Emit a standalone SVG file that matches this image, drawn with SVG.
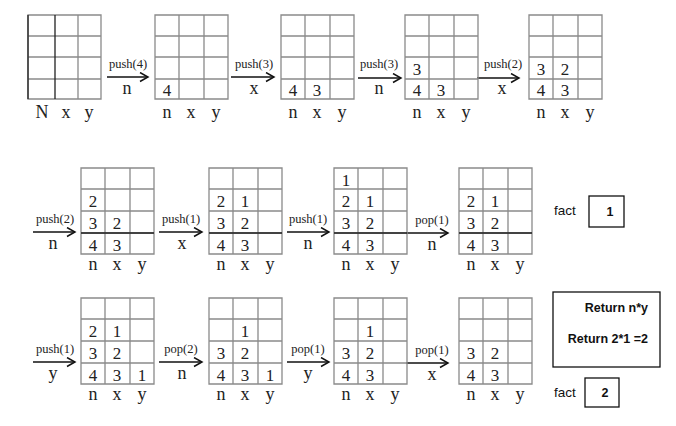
<svg xmlns="http://www.w3.org/2000/svg" width="676" height="426" viewBox="0 0 676 426">
<defs>
<style>
.g{fill:none;stroke:#8a8a8a;stroke-width:1.3}
.dk{stroke:#222;stroke-width:1.3;fill:none}
.d{font-family:"Liberation Serif","Times New Roman",serif;font-size:17px;fill:#222;text-anchor:middle}
.l{font-family:"Liberation Serif","Times New Roman",serif;font-size:18px;fill:#222;text-anchor:middle}
.op{font-family:"Liberation Serif","Times New Roman",serif;font-size:12.5px;fill:#222;text-anchor:middle}
.s{font-family:"Liberation Sans",Arial,sans-serif;font-size:13.5px;fill:#111}
.b{font-family:"Liberation Sans",Arial,sans-serif;font-size:12.5px;font-weight:bold;fill:#111}
.ar{stroke:#111;stroke-width:1.5;fill:none}
.box{fill:#fff;stroke:#111;stroke-width:1.3}
</style>
<marker id="ah" markerUnits="userSpaceOnUse" markerWidth="12" markerHeight="12" refX="9" refY="5" orient="auto">
<path d="M1,0.5 L9,5 L1,9.5" fill="none" stroke="#111" stroke-width="1.5"/>
</marker>
<path id="gA" class="g" d="M0,0H73V84H0Z M24,0V84 M49,0V84 M0,21H73 M0,42H73 M0,64H73"/>
<path id="gB" class="g" d="M0,0H73V86H0Z M24,0V86 M49,0V86 M0,21H73 M0,43H73 M0,65H73"/>
</defs>

<g id="connectors">
<line class="ar" x1="107" y1="77" x2="148" y2="77" marker-end="url(#ah)"/>
<line class="ar" x1="231" y1="77" x2="274" y2="77" marker-end="url(#ah)"/>
<line class="ar" x1="358" y1="78" x2="401" y2="78" marker-end="url(#ah)"/>
<line class="ar" x1="477" y1="78" x2="519" y2="78" marker-end="url(#ah)"/>
<line class="ar" x1="33" y1="232" x2="75" y2="232" marker-end="url(#ah)"/>
<line class="ar" x1="159" y1="232" x2="202" y2="232" marker-end="url(#ah)"/>
<line class="ar" x1="287" y1="232" x2="329" y2="232" marker-end="url(#ah)"/>
<line class="ar" x1="406" y1="233" x2="448" y2="233" marker-end="url(#ah)"/>
<line class="ar" x1="33" y1="362" x2="75" y2="362" marker-end="url(#ah)"/>
<line class="ar" x1="159" y1="362" x2="202" y2="362" marker-end="url(#ah)"/>
<line class="ar" x1="287" y1="362" x2="329" y2="362" marker-end="url(#ah)"/>
<line class="ar" x1="406" y1="363" x2="448" y2="363" marker-end="url(#ah)"/>
<text class="op" x="128" y="68">push(4)</text><text class="l" x="127" y="94">n</text>
<text class="op" x="254" y="68">push(3)</text><text class="l" x="254" y="94">x</text>
<text class="op" x="379" y="68">push(3)</text><text class="l" x="379" y="94">n</text>
<text class="op" x="503" y="68">push(2)</text><text class="l" x="502" y="94">x</text>
<text class="op" x="55" y="223">push(2)</text><text class="l" x="53" y="249">n</text>
<text class="op" x="181" y="223">push(1)</text><text class="l" x="182" y="249">x</text>
<text class="op" x="308" y="223">push(1)</text><text class="l" x="308" y="249">n</text>
<text class="op" x="432" y="224">pop(1)</text><text class="l" x="432" y="250">n</text>
<text class="op" x="55" y="353">push(1)</text><text class="l" x="53" y="379">y</text>
<text class="op" x="181" y="353">pop(2)</text><text class="l" x="182" y="379">n</text>
<text class="op" x="308" y="353">pop(1)</text><text class="l" x="308" y="379">y</text>
<text class="op" x="432" y="354">pop(1)</text><text class="l" x="432" y="380">x</text>
</g>

<g id="s0">
<path class="g" d="M28,15H101V99H28Z M78,15V99 M28,36H101 M28,57H101 M28,79H101"/>
<path class="dk" d="M28,15V99 M55,15V99"/>
<text class="l" x="42" y="118">N</text><text class="l" x="66" y="118">x</text><text class="l" x="89" y="118">y</text>
</g>

<g id="s1" transform="translate(155,15)">
<use href="#gA"/>
<text class="d" x="12" y="81">4</text>
<text class="l" x="12" y="103">n</text><text class="l" x="36" y="103">x</text><text class="l" x="61" y="103">y</text>
</g>

<g id="s2" transform="translate(281,15)">
<use href="#gA"/>
<text class="d" x="12" y="81">4</text><text class="d" x="36" y="81">3</text>
<text class="l" x="12" y="103">n</text><text class="l" x="36" y="103">x</text><text class="l" x="61" y="103">y</text>
</g>

<g id="s3" transform="translate(405,15)">
<use href="#gA"/>
<text class="d" x="12" y="60">3</text>
<text class="d" x="12" y="81">4</text><text class="d" x="36" y="81">3</text>
<text class="l" x="12" y="103">n</text><text class="l" x="36" y="103">x</text><text class="l" x="61" y="103">y</text>
</g>

<g id="s4" transform="translate(529,15)">
<use href="#gA"/>
<text class="d" x="12" y="60">3</text><text class="d" x="36" y="60">2</text>
<text class="d" x="12" y="81">4</text><text class="d" x="36" y="81">3</text>
<text class="l" x="12" y="103">n</text><text class="l" x="36" y="103">x</text><text class="l" x="61" y="103">y</text>
</g>

<g id="s5" transform="translate(81,168)">
<use href="#gB"/>
<path class="dk" d="M0,65H73"/>
<text class="d" x="12" y="39">2</text>
<text class="d" x="12" y="61">3</text><text class="d" x="36" y="61">2</text>
<text class="d" x="12" y="83">4</text><text class="d" x="36" y="83">3</text>
<text class="l" x="12" y="102">n</text><text class="l" x="36" y="102">x</text><text class="l" x="61" y="102">y</text>
</g>

<g id="s6" transform="translate(209,168)">
<use href="#gB"/>
<path class="dk" d="M0,65H73"/>
<text class="d" x="12" y="39">2</text><text class="d" x="36" y="39">1</text>
<text class="d" x="12" y="61">3</text><text class="d" x="36" y="61">2</text>
<text class="d" x="12" y="83">4</text><text class="d" x="36" y="83">3</text>
<text class="l" x="12" y="102">n</text><text class="l" x="36" y="102">x</text><text class="l" x="61" y="102">y</text>
</g>

<g id="s7" transform="translate(334,168)">
<use href="#gB"/>
<path class="dk" d="M0,65H73"/>
<text class="d" x="12" y="18">1</text>
<text class="d" x="12" y="39">2</text><text class="d" x="36" y="39">1</text>
<text class="d" x="12" y="61">3</text><text class="d" x="36" y="61">2</text>
<text class="d" x="12" y="83">4</text><text class="d" x="36" y="83">3</text>
<text class="l" x="12" y="102">n</text><text class="l" x="36" y="102">x</text><text class="l" x="61" y="102">y</text>
</g>

<g id="s8" transform="translate(459,168)">
<use href="#gB"/>
<path class="dk" d="M0,65H73"/>
<text class="d" x="12" y="39">2</text><text class="d" x="36" y="39">1</text>
<text class="d" x="12" y="61">3</text><text class="d" x="36" y="61">2</text>
<text class="d" x="12" y="83">4</text><text class="d" x="36" y="83">3</text>
<text class="l" x="12" y="102">n</text><text class="l" x="36" y="102">x</text><text class="l" x="61" y="102">y</text>
</g>

<g id="fact1">
<text class="s" x="554" y="215">fact</text>
<rect class="box" x="589" y="196" width="35" height="31"/>
<text class="b" x="610" y="216" text-anchor="middle">1</text>
</g>

<g id="s9" transform="translate(81,298)">
<use href="#gB"/>
<text class="d" x="12" y="39">2</text><text class="d" x="36" y="39">1</text>
<text class="d" x="12" y="61">3</text><text class="d" x="36" y="61">2</text>
<text class="d" x="12" y="83">4</text><text class="d" x="36" y="83">3</text><text class="d" x="61" y="83">1</text>
<text class="l" x="12" y="102">n</text><text class="l" x="36" y="102">x</text><text class="l" x="61" y="102">y</text>
</g>

<g id="s10" transform="translate(209,298)">
<use href="#gB"/>
<text class="d" x="36" y="39">1</text>
<text class="d" x="12" y="61">3</text><text class="d" x="36" y="61">2</text>
<text class="d" x="12" y="83">4</text><text class="d" x="36" y="83">3</text><text class="d" x="61" y="83">1</text>
<text class="l" x="12" y="102">n</text><text class="l" x="36" y="102">x</text><text class="l" x="61" y="102">y</text>
</g>

<g id="s11" transform="translate(334,298)">
<use href="#gB"/>
<text class="d" x="36" y="39">1</text>
<text class="d" x="12" y="61">3</text><text class="d" x="36" y="61">2</text>
<text class="d" x="12" y="83">4</text><text class="d" x="36" y="83">3</text>
<text class="l" x="12" y="102">n</text><text class="l" x="36" y="102">x</text><text class="l" x="61" y="102">y</text>
</g>

<g id="s12" transform="translate(459,298)">
<use href="#gB"/>
<text class="d" x="12" y="61">3</text><text class="d" x="36" y="61">2</text>
<text class="d" x="12" y="83">4</text><text class="d" x="36" y="83">3</text>
<text class="l" x="12" y="102">n</text><text class="l" x="36" y="102">x</text><text class="l" x="61" y="102">y</text>
</g>

<g id="ret">
<rect class="box" x="553" y="292" width="107" height="75"/>
<text class="b" x="648" y="312" text-anchor="end">Return n*y</text>
<text class="b" x="648" y="343" text-anchor="end">Return 2*1 =2</text>
</g>

<g id="fact2">
<text class="s" x="554" y="397">fact</text>
<rect class="box" x="585" y="378" width="34" height="29"/>
<text class="b" x="605" y="397" text-anchor="middle">2</text>
</g>
</svg>
